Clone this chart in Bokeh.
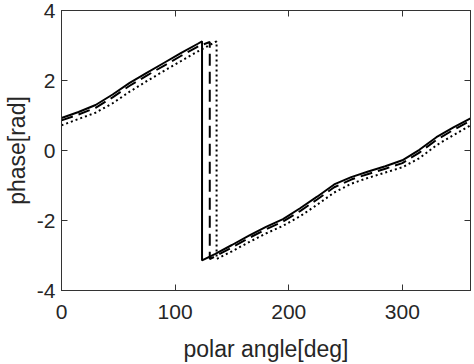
from bokeh.plotting import figure
from bokeh.models import Range1d, LinearAxis, FixedTicker, CustomLabelingPolicy
from bokeh.embed import file_html
from bokeh.resources import INLINE

# Solid series
x_solid = [0, 15, 30, 45, 60, 75, 90, 105, 120, 123.7, 123.7, 135, 150, 165, 180, 195,
           210, 225, 240, 255, 270, 285, 300, 315, 330, 345, 360]
y_solid = [0.93, 1.10, 1.30, 1.60, 1.93, 2.22, 2.50, 2.78, 3.05, 3.12, -3.14, -2.96, -2.70,
           -2.43, -2.18, -1.96, -1.65, -1.32, -0.97, -0.76, -0.60, -0.45, -0.28, 0.02,
           0.38, 0.66, 0.92]

# Dashed series
x_dash = [0, 15, 30, 45, 60, 75, 90, 105, 120, 130.5, 130.5, 135, 150, 165, 180, 195,
          210, 225, 240, 255, 270, 285, 300, 315, 330, 345, 360]
y_dash = [0.86, 1.03, 1.22, 1.52, 1.85, 2.14, 2.42, 2.70, 2.97, 3.10, -3.10, -3.03, -2.77,
          -2.50, -2.25, -2.03, -1.73, -1.40, -1.05, -0.83, -0.67, -0.52, -0.36, -0.06,
          0.30, 0.59, 0.85]

# Dotted series
x_dot = [0, 15, 30, 45, 60, 75, 90, 105, 120, 136.5, 136.5, 150, 165, 180, 195,
         210, 225, 240, 255, 270, 285, 300, 315, 330, 345, 360]
y_dot = [0.72, 0.90, 1.08, 1.35, 1.68, 1.98, 2.27, 2.55, 2.83, 3.12, -3.10, -2.88,
         -2.62, -2.37, -2.15, -1.88, -1.55, -1.20, -0.95, -0.78, -0.63, -0.48, -0.22,
         0.15, 0.44, 0.72]

x_ticks = [0, 100, 200, 300]
y_ticks = [-4, -2, 0, 2, 4]
y_tick_labels = {-4: "-4", -2: "-2", 0: "0", 2: "2", 4: "4"}

FONT = "Liberation Sans"
AX = "#333333"

p = figure(width=474, height=364, output_backend="svg", toolbar_location=None,
           x_range=Range1d(0, 360), y_range=Range1d(-4, 4),
           min_border_left=0, min_border_right=0, min_border_top=10, min_border_bottom=0)
p.background_fill_color = "white"
p.border_fill_color = "white"
p.outline_line_color = AX
p.grid.visible = False

p.line(x_solid, y_solid, line_color="black", line_width=2)
p.line(x_dash, y_dash, line_color="black", line_width=2, line_dash="12 6")
p.line(x_dot, y_dot, line_color="black", line_width=2, line_dash="2 3")

for ax, ticks in ((p.xaxis[0], x_ticks), (p.yaxis[0], y_ticks)):
    ax.ticker = FixedTicker(ticks=ticks)
    ax.major_tick_in = 6
    ax.major_tick_out = 0
    ax.minor_tick_line_color = None
    ax.axis_line_color = AX
    ax.major_tick_line_color = AX
    ax.major_label_text_font = FONT
    ax.major_label_text_font_size = "21px"
    ax.major_label_text_color = "#262626"
    ax.axis_label_text_font = FONT
    ax.axis_label_text_font_size = "23px"
    ax.axis_label_text_font_style = "normal"
    ax.axis_label_text_color = "#262626"

p.yaxis[0].major_label_overrides = y_tick_labels
p.xaxis[0].axis_label = "polar angle[deg]"
p.yaxis[0].axis_label = "phase[rad]"
p.xaxis[0].major_label_standoff = 14
p.xaxis[0].axis_label_standoff = 14
p.yaxis[0].major_label_standoff = 6
p.yaxis[0].axis_label_standoff = 4

hide = "for (const i of indices) indices.unset(i); return indices"
top = LinearAxis(ticker=FixedTicker(ticks=x_ticks), major_tick_in=6, major_tick_out=0,
                 minor_tick_line_color=None, axis_line_color=AX, major_tick_line_color=AX,
                 major_label_standoff=0, major_label_text_font_size="1px",
                 major_label_policy=CustomLabelingPolicy(code=hide))
right = LinearAxis(ticker=FixedTicker(ticks=y_ticks), major_tick_in=6, major_tick_out=0,
                   minor_tick_line_color=None, axis_line_color=AX, major_tick_line_color=AX,
                   major_label_standoff=0, major_label_text_font_size="1px",
                   major_label_policy=CustomLabelingPolicy(code=hide))
p.add_layout(top, "above")
p.add_layout(right, "right")

open("out.html", "w").write(file_html(p, INLINE))
